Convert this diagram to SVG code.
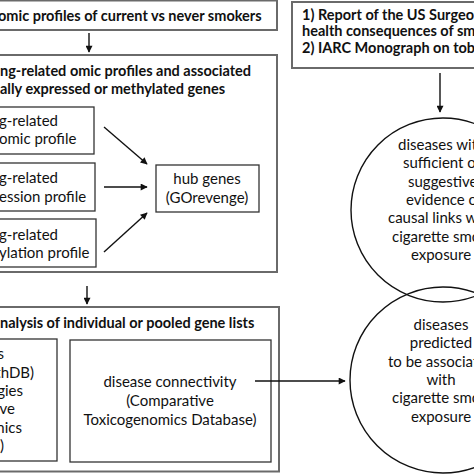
<svg xmlns="http://www.w3.org/2000/svg" width="474" height="474" viewBox="0 0 474 474">
<style>
.frame{fill:none;stroke:#6a6a6a;stroke-width:2}
.box{fill:none;stroke:#333;stroke-width:1.3}
.circ{fill:none;stroke:#111;stroke-width:1.4}
.h{font-family:Lato,"Open Sans",sans-serif;font-weight:bold;font-size:14.5px;fill:#111}
.t{font-family:Lato,"Open Sans",sans-serif;font-size:15px;fill:#111}
.c{text-anchor:middle}
.e{text-anchor:end}
.conn line{stroke:#111;stroke-width:1.4}
</style>
<defs>
<marker id="ah" viewBox="0 0 10 10" refX="9" refY="5" markerWidth="8" markerHeight="7" orient="auto" markerUnits="userSpaceOnUse">
<path d="M0,0 L10,5 L0,10 z" fill="#111"/>
</marker>
</defs>
<rect width="474" height="474" fill="#fff"/>

<g id="box-omic-profiles">
<rect class="frame" x="-10" y="0.5" width="287" height="29.5"/>
<text class="h" x="-2" y="21">omic profiles of current vs never smokers</text>
</g>

<g id="box-smoking-related">
<rect class="frame" x="-10" y="55" width="287" height="217"/>
<text class="h" x="0" y="76">ng-related omic profiles and associated</text>
<text class="h" x="0" y="94">ally expressed or methylated genes</text>
</g>

<g id="node-genomic">
<rect class="box" x="-10" y="107" width="104" height="47"/>
<text class="t" x="-1" y="126">g-related</text>
<text class="t" x="-1" y="144">omic profile</text>
</g>

<g id="node-expression">
<rect class="box" x="-10" y="163" width="105" height="48"/>
<text class="t" x="-1" y="183">g-related</text>
<text class="t" x="-1" y="202">ession profile</text>
</g>

<g id="node-methylation">
<rect class="box" x="-10" y="219" width="106" height="48"/>
<text class="t" x="-1" y="240">g-related</text>
<text class="t" x="-1" y="258">ylation profile</text>
</g>

<g id="node-hub">
<rect class="box" x="156" y="165" width="103" height="47"/>
<text class="t c" x="207" y="184">hub genes</text>
<text class="t c" x="207" y="203">(GOrevenge)</text>
</g>

<g id="box-analysis">
<rect class="frame" x="-10" y="307" width="289" height="164.5"/>
<text class="h" x="0" y="328">nalysis of individual or pooled gene lists</text>
</g>

<g id="node-pathways">
<rect class="box" x="-10" y="339" width="67" height="122"/>
<text class="t e" x="4" y="359">s</text>
<text class="t e" x="34" y="378">thDB)</text>
<text class="t e" x="23" y="396">gies</text>
<text class="t e" x="15" y="414">ve</text>
<text class="t e" x="22" y="433">nics</text>
<text class="t e" x="4" y="451">)</text>
</g>

<g id="node-disease-connectivity">
<rect class="box" x="70" y="340" width="201" height="122"/>
<text class="t c" x="170" y="387">disease connectivity</text>
<text class="t c" x="170" y="406">(Comparative</text>
<text class="t c" x="170" y="425">Toxicogenomics Database)</text>
</g>

<g id="box-reports">
<rect class="frame" x="292" y="2" width="200" height="66"/>
<text class="h" x="302" y="20">1) Report of the US Surgeon</text>
<text class="h" x="302" y="36">health consequences of sm</text>
<text class="h" x="302" y="53">2) IARC Monograph on tob</text>
</g>

<g id="circle-causal">
<circle class="circ" cx="443" cy="210" r="92"/>
<text class="t" x="398" y="150">diseases wit</text>
<text class="t" x="403" y="168">sufficient o</text>
<text class="t" x="408" y="187">suggestive</text>
<text class="t" x="406" y="205">evidence o</text>
<text class="t" x="388" y="223">causal links w</text>
<text class="t" x="392" y="242">cigarette smo</text>
<text class="t c" x="441" y="260">exposure</text>
</g>

<g id="circle-predicted">
<circle class="circ" cx="443" cy="380" r="93"/>
<text class="t c" x="441" y="330">diseases</text>
<text class="t c" x="441" y="348">predicted</text>
<text class="t" x="388" y="367">to be associat</text>
<text class="t c" x="441" y="385">with</text>
<text class="t" x="392" y="403">cigarette smo</text>
<text class="t c" x="441" y="422">exposure</text>
</g>

<g id="connectors" class="conn">
<line x1="89" y1="33" x2="89" y2="52" marker-end="url(#ah)"/>
<line x1="104" y1="127" x2="147" y2="164" marker-end="url(#ah)"/>
<line x1="104" y1="187" x2="147" y2="187" marker-end="url(#ah)"/>
<line x1="104" y1="252" x2="147" y2="213" marker-end="url(#ah)"/>
<line x1="87" y1="286" x2="87" y2="304" marker-end="url(#ah)"/>
<line x1="440" y1="73" x2="440" y2="112" marker-end="url(#ah)"/>
<line x1="255" y1="381" x2="345" y2="381" marker-end="url(#ah)"/>
</g>
</svg>
